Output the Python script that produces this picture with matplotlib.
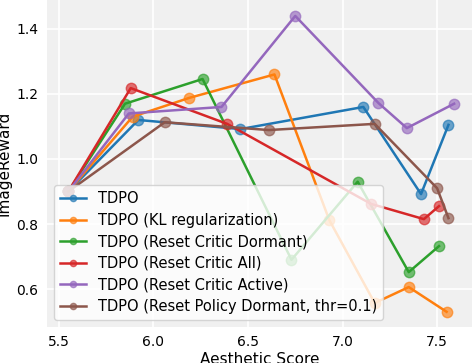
import matplotlib
matplotlib.use("Agg")
import matplotlib.pyplot as plt
from matplotlib.colors import to_rgba

labels = [
    "TDPO",
    "TDPO (KL regularization)",
    "TDPO (Reset Critic Dormant)",
    "TDPO (Reset Critic All)",
    "TDPO (Reset Critic Active)",
    "TDPO (Reset Policy Dormant, thr=0.1)",
]
colors = ["#1f77b4", "#ff7f0e", "#2ca02c", "#d62728", "#9467bd", "#8c564b"]

tdpo_x = [5.55, 5.92, 6.46, 7.11, 7.415, 7.56]
tdpo_y = [0.90, 1.12, 1.092, 1.16, 0.892, 1.105]

kl_x = [5.55, 5.89, 6.19, 6.64, 6.93, 7.17, 7.35, 7.55]
kl_y = [0.90, 1.13, 1.188, 1.26, 0.812, 0.557, 0.606, 0.53]

crit_dorm_x = [5.55, 5.85, 6.26, 6.73, 7.08, 7.35, 7.51]
crit_dorm_y = [0.90, 1.17, 1.246, 0.69, 0.93, 0.652, 0.732]

crit_all_x = [5.55, 5.88, 6.39, 7.15, 7.43, 7.51]
crit_all_y = [0.90, 1.218, 1.108, 0.862, 0.815, 0.855]

crit_act_x = [5.55, 5.87, 6.36, 6.75, 7.19, 7.34, 7.59]
crit_act_y = [0.90, 1.14, 1.16, 1.44, 1.172, 1.095, 1.17]

pol_dorm_x = [5.55, 6.06, 6.61, 7.17, 7.50, 7.56]
pol_dorm_y = [0.90, 1.113, 1.089, 1.108, 0.91, 0.818]

series = [
    (tdpo_x, tdpo_y),
    (kl_x, kl_y),
    (crit_dorm_x, crit_dorm_y),
    (crit_all_x, crit_all_y),
    (crit_act_x, crit_act_y),
    (pol_dorm_x, pol_dorm_y),
]

plt.rcParams["font.family"] = ["DejaVu Sans"]
fig = plt.figure(figsize=(4.74, 3.63), dpi=100)
ax = fig.add_axes([0.099, 0.099, 0.897, 0.901])
ax.set_facecolor("#f0f0f0")
for s in ax.spines.values():
    s.set_visible(False)
ax.grid(True, color="white", linewidth=1.2)
ax.set_axisbelow(True)
ax.tick_params(length=0, labelsize=10, pad=6)

for (xs, ys), lab, c in zip(series, labels, colors):
    ax.plot(xs, ys, "-o", color=c, lw=1.8, ms=7.5, label=lab,
            markerfacecolor=to_rgba(c, 0.65), markeredgecolor=to_rgba(c, 0.65))

ax.set_xlim(5.437, 7.685)
ax.set_ylim(0.483, 1.489)
ax.set_xticks([5.5, 6.0, 6.5, 7.0, 7.5])
ax.set_yticks([0.6, 0.8, 1.0, 1.2, 1.4])
ax.set_xlabel("Aesthetic Score", fontsize=11, labelpad=2)
ax.set_ylabel("ImageReward", fontsize=11, labelpad=4)

leg = ax.legend(loc="lower left", fontsize=10.5, framealpha=0.8,
                handlelength=1.8, borderaxespad=0.5, labelspacing=0.45,
                markerscale=0.6)

fig.savefig("out.png", dpi=100)
